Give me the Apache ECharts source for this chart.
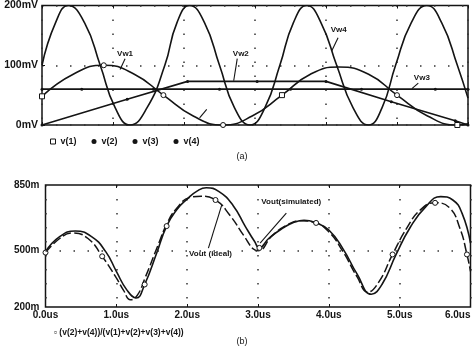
<!DOCTYPE html>
<html><head><meta charset="utf-8">
<script src="https://cdn.jsdelivr.net/npm/echarts@6/dist/echarts.min.js"></script>
<style>html,body{margin:0;padding:0;background:#fff}#c{width:474px;height:348px}</style>
</head><body><div id="c"></div>
<script>
// ---- (a) input waveforms, time in us, voltage in mV ----
const tV1 = [0, 0.44, 0.87, 1.3, 1.71, 2.13, 2.55, 2.96, 3.38, 3.78, 4.18, 4.6, 5.0, 5.43, 5.85, 6.0];
const vV1 = [48, 85, 100, 85, 50, 15, 0, 15, 50, 85, 97, 85, 50, 15, 0, 2];

const tV2 = [0, 1.2, 2.05, 3.03, 4.0, 4.92, 5.82, 6.0];
const vV2 = [0, 43, 73, 73, 73, 39, 7, 0];

const tV3 = [0, 0.56, 1.57, 2.5, 3.5, 4.5, 5.54, 6.0];
const vV3 = [60, 60, 60, 60, 60, 60, 60, 60];

const tV4 = [0, 0.19, 0.37, 0.6, 0.82, 1.03, 1.24, 1.48, 1.73, 1.9, 2.08, 2.29, 2.5, 2.71, 2.93, 3.14,
             3.35, 3.54, 3.73, 3.93, 4.15, 4.38, 4.6, 4.79, 4.98, 5.2, 5.42, 5.63, 5.85, 6.0];
const vV4 = [100, 171, 200, 171, 100, 29, 0, 29, 100, 171, 200, 171, 100, 29, 0, 29,
             100, 171, 200, 171, 100, 29, 0, 29, 100, 171, 200, 171, 100, 45];

const seriesNamesA = ['v(1)', 'v(2)', 'v(3)', 'v(4)'];
const yTicksA = [0, 100, 200];

// ---- (b) output ratio, time in us, value in m ----
const tSim = [0, 0.2, 0.42, 0.65, 0.85, 1.0, 1.15, 1.28, 1.4, 1.57, 1.71, 1.85, 2.0, 2.15, 2.27, 2.45, 2.65,
              2.82, 2.95, 3.02, 3.15, 3.35, 3.5, 3.65, 3.82, 4.0, 4.2, 4.4, 4.6, 4.75, 4.95, 5.15, 5.37,
              5.58, 5.75, 5.88, 6.0];
const vSim = [495, 575, 605, 575, 495, 390, 290, 248, 320, 488, 631, 717, 775, 820, 835, 815, 740,
              630, 550, 515, 565, 620, 650, 662, 648, 610, 510, 375, 268, 320, 480, 625, 735,
              788, 770, 700, 540];

const tIdeal = [0, 0.2, 0.38, 0.6, 0.8, 1.0, 1.1, 1.2, 1.3, 1.4, 1.6, 1.71, 1.85, 2.05, 2.2, 2.4, 2.6,
                2.8, 2.93, 3.0, 3.2, 3.4, 3.6, 3.8, 4.0, 4.2, 4.4, 4.55, 4.7, 4.9, 5.1, 5.3, 5.5,
                5.7, 5.85, 5.95, 6.0];
const vIdeal = [490, 565, 595, 565, 470, 355, 290, 238, 265, 350, 540, 640, 725, 785, 790, 770, 690,
                580, 510, 500, 580, 635, 660, 650, 600, 495, 360, 280, 330, 480, 620, 720, 755,
                730, 620, 480, 390];

const yTicksB = [200, 500, 850];
const xLabelB = '\u25AB (v(2)+v(4))/(v(1)+v(2)+v(3)+v(4))';

const INK = '#141414';
const FONT = 'Liberation Sans, Arial, sans-serif';
const dotted = { color: '#333', width: 1.5, type: [1.5, 12.5] };

const pairs = (t, v) => t.map((x, i) => [x, v[i]]);

// hollow markers on selected points of a curve
function marked(t, v, rectIdx, circIdx) {
  return t.map((x, i) => {
    const item = { value: [x, v[i]] };
    if (rectIdx.includes(i)) item.symbol = 'rect';
    else if (circIdx.includes(i)) item.symbol = 'circle';
    else item.symbol = 'none';
    return item;
  });
}

const chart = echarts.init(document.getElementById('c'), null, { renderer: 'canvas' });

const baseLine = { type: 'line', animation: false, silent: true, lineStyle: { color: INK, width: 1.6 } };

chart.setOption({
  backgroundColor: '#fff',
  textStyle: { fontFamily: FONT },
  grid: [
    { left: 42, right: 6, top: 4, height: 121, show: true, borderColor: INK, borderWidth: 1.5 },
    { left: 45.5, right: 3.5, top: 185, height: 122, show: true, borderColor: INK, borderWidth: 1.5 }
  ],
  legend: {
    left: 45, top: 132, itemWidth: 5, itemHeight: 5, itemGap: 15,
    textStyle: { fontSize: 9, fontWeight: 'bold', color: INK, fontFamily: FONT },
    data: [
      { name: seriesNamesA[0], icon: 'rect', itemStyle: { color: '#fff', borderColor: INK, borderWidth: 1 } },
      { name: seriesNamesA[1], icon: 'circle', itemStyle: { color: INK } },
      { name: seriesNamesA[2], icon: 'circle', itemStyle: { color: INK } },
      { name: seriesNamesA[3], icon: 'circle', itemStyle: { color: INK } }
    ],
    selectedMode: false
  },
  xAxis: [
    { type: 'value', gridIndex: 0, min: 0, max: 6, interval: 1,
      axisLine: { show: false }, axisTick: { show: true, inside: true, length: 3, lineStyle: { color: INK } },
      axisLabel: { show: false }, splitLine: { show: true, lineStyle: dotted } },
    { type: 'value', gridIndex: 0, position: 'top', min: 0, max: 6, interval: 1,
      axisLine: { show: false }, axisTick: { show: true, inside: true, length: 3, lineStyle: { color: INK } },
      axisLabel: { show: false }, splitLine: { show: false } },
    { type: 'value', gridIndex: 1, min: 0, max: 6, interval: 1,
      axisLine: { show: false }, axisTick: { show: true, inside: true, length: 3, lineStyle: { color: INK } },
      axisLabel: { show: true, margin: 3, fontSize: 10, fontWeight: 'bold', color: INK, fontFamily: FONT,
                   alignMaxLabel: 'right', formatter: v => v.toFixed(1) + 'us' },
      splitLine: { show: true, lineStyle: dotted } },
    { type: 'value', gridIndex: 1, position: 'top', min: 0, max: 6, interval: 1,
      axisLine: { show: false }, axisTick: { show: true, inside: true, length: 3, lineStyle: { color: INK } },
      axisLabel: { show: false }, splitLine: { show: false } }
  ],
  yAxis: [
    { type: 'value', gridIndex: 0, min: yTicksA[0], max: yTicksA[2], interval: yTicksA[1] - yTicksA[0],
      axisLine: { show: false }, axisTick: { show: true, inside: true, length: 3, lineStyle: { color: INK } },
      axisLabel: { margin: 4, fontSize: 10.5, fontWeight: 'bold', color: INK, fontFamily: FONT,
                   formatter: v => v + 'mV' },
      splitLine: { show: true, lineStyle: dotted } },
    { type: 'value', gridIndex: 1, min: 200, max: 850, interval: 50,
      axisLine: { show: false }, axisTick: { show: false },
      axisLabel: { margin: 6, fontSize: 10, fontWeight: 'bold', color: INK, fontFamily: FONT,
                   formatter: v => (yTicksB.includes(v) ? v + 'm' : '') },
      splitLine: { show: false } }
  ],
  series: [
    Object.assign({}, baseLine, {
      name: seriesNamesA[0], xAxisIndex: 0, yAxisIndex: 0, smooth: 0.5,
      symbolSize: 5, itemStyle: { color: '#fff', borderColor: INK, borderWidth: 1 },
      data: marked(tV1, vV1, [0, 8, 14], [2, 4, 6, 12])
    }),
    Object.assign({}, baseLine, {
      name: seriesNamesA[1], xAxisIndex: 0, yAxisIndex: 0, smooth: false,
      symbol: 'circle', symbolSize: 3, itemStyle: { color: INK },
      data: pairs(tV2, vV2)
    }),
    Object.assign({}, baseLine, {
      name: seriesNamesA[2], xAxisIndex: 0, yAxisIndex: 0, smooth: false,
      symbol: 'circle', symbolSize: 3, itemStyle: { color: INK },
      data: pairs(tV3, vV3)
    }),
    Object.assign({}, baseLine, {
      name: seriesNamesA[3], xAxisIndex: 0, yAxisIndex: 0, smooth: 0.5,
      symbol: 'none', itemStyle: { color: INK },
      data: pairs(tV4, vV4)
    }),
    Object.assign({}, baseLine, {
      name: 'Vout(simulated)', xAxisIndex: 2, yAxisIndex: 1, smooth: 0.5,
      symbolSize: 5, itemStyle: { color: '#fff', borderColor: INK, borderWidth: 1 },
      lineStyle: { color: INK, width: 1.6 },
      data: marked(tSim, vSim, [], [8, 10, 19, 24]),
      markLine: { silent: true, symbol: 'none', label: { show: false }, animation: false,
                  lineStyle: dotted, data: [{ yAxis: 500 }] }
    }),
    Object.assign({}, baseLine, {
      name: 'Vout (ideal)', xAxisIndex: 2, yAxisIndex: 1, smooth: 0.5,
      symbolSize: 5, itemStyle: { color: '#fff', borderColor: INK, borderWidth: 1 },
      lineStyle: { color: INK, width: 1.5, type: [9, 3] },
      data: marked(tIdeal, vIdeal, [], [0, 4, 15, 29, 32, 35])
    })
  ]
});

// annotations placed in data coordinates: [label, labelPos, leaderFrom, leaderTo, gridIdx]
const notes = [
  ['Vw1', [1.17, 119], [1.17, 111], [1.1, 93], 0],
  [null, null, [2.22, 12], [2.32, 26], 0],
  ['Vw2', [2.8, 120], [2.75, 111], [2.7, 74], 0],
  ['Vw4', [4.18, 160], [4.17, 146], [4.08, 124], 0],
  ['Vw3', [5.35, 79], [5.3, 70], [5.21, 61], 0],
  ['Vout(simulated)', [3.47, 759], [3.4, 700], [3.03, 540], 1],
  ['Vout (ideal)', [2.33, 482], [2.3, 514], [2.49, 745], 1]
];

const px = (p, g) => chart.convertToPixel({ xAxisIndex: g === 0 ? 0 : 2, yAxisIndex: g }, p);
const elements = [];
notes.forEach(([txt, at, a, b, g]) => {
  const p1 = px(a, g), p2 = px(b, g);
  elements.push({ type: 'line', silent: true,
    shape: { x1: p1[0], y1: p1[1], x2: p2[0], y2: p2[1] },
    style: { stroke: INK, lineWidth: 1.1 } });
  if (txt) {
    const q = px(at, g);
    elements.push({ type: 'text', silent: true, x: q[0], y: q[1],
      style: { text: txt, fill: INK, font: 'bold 8px ' + FONT, align: 'center', verticalAlign: 'middle' } });
  }
});
elements.push({ type: 'text', silent: true, x: 242, y: 157,
  style: { text: '(a)', fill: INK, font: '9px ' + FONT, align: 'center', verticalAlign: 'middle' } });
elements.push({ type: 'text', silent: true, x: 242, y: 342,
  style: { text: '(b)', fill: INK, font: '9px ' + FONT, align: 'center', verticalAlign: 'middle' } });
elements.push({ type: 'text', silent: true, x: 54, y: 333,
  style: { text: xLabelB, fill: INK, font: 'bold 8.5px ' + FONT, align: 'left', verticalAlign: 'middle' } });

chart.setOption({ graphic: { elements } });
</script></body></html>
